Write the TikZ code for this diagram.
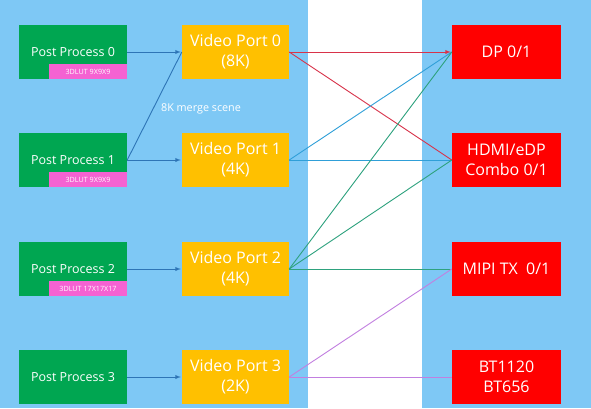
\documentclass[tikz,border=0pt]{standalone}
\usepackage{fontspec}
\setmainfont{Open Sans}
\usepackage{xcolor}
\usepackage{tikz}

\definecolor{bgblue}{HTML}{7EC8F5}
\definecolor{ppgreen}{HTML}{00A651}
\definecolor{lutpink}{HTML}{F562D2}
\definecolor{vpyellow}{HTML}{FFC000}
\definecolor{outred}{HTML}{FF0000}
\definecolor{arrblue}{HTML}{2E75B6}
\definecolor{linered}{HTML}{D8334A}
\definecolor{lineblue}{HTML}{2F9FD8}
\definecolor{linegreen}{HTML}{2EA27E}
\definecolor{linepurple}{HTML}{C27FE0}

\begin{document}
\begin{tikzpicture}[x=1pt,y=-1pt,>=latex,
  pbox/.style={fill=ppgreen,text=white,minimum width=108pt,minimum height=54pt,inner sep=0pt,font=\fontsize{12.5}{15}\selectfont},
  lut/.style={fill=lutpink,text=white,minimum width=78pt,minimum height=15pt,inner sep=0pt,font=\fontsize{7.2}{8}\selectfont},
  vport/.style={fill=vpyellow,text=white,minimum width=107pt,minimum height=54pt,inner sep=0pt,align=center,font=\fontsize{16}{20}\selectfont},
  outbox/.style={fill=outred,text=white,minimum width=109pt,minimum height=54pt,inner sep=0pt,align=center,font=\fontsize{16}{20}\selectfont},
  link/.style={line width=0.9pt}]

% background
\fill[bgblue] (0,0) rectangle (591,408);
\fill[white] (308,0) rectangle (422,408);

% post process
\node[pbox] (pp0) at (73,52) {Post Process 0};
\node[pbox] (pp1) at (73,160) {Post Process 1};
\node[pbox] (pp2) at (73,269) {Post Process 2};
\node[pbox] (pp3) at (73,377) {Post Process 3};
\node[lut,anchor=south east] (lut0) at (pp0.south east) {3DLUT 9X9X9};
\node[lut,anchor=south east] (lut1) at (pp1.south east) {3DLUT 9X9X9};
\node[lut,anchor=south east] (lut2) at (pp2.south east) {3DLUT 17X17X17};

% video ports
\node[vport] (vp0) at (235.5,52) {Video Port 0\\(8K)};
\node[vport] (vp1) at (235.5,160) {Video Port 1\\(4K)};
\node[vport] (vp2) at (235.5,269) {Video Port 2\\(4K)};
\node[vport] (vp3) at (235.5,377) {Video Port 3\\(2K)};

% outputs
\node[outbox] (dp) at (506.5,52) {DP 0/1};
\node[outbox] (hdmi) at (506.5,160) {HDMI/eDP\\Combo 0/1};
\node[outbox] (mipi) at (506.5,269) {MIPI TX\ \ 0/1};
\node[outbox] (bt) at (506.5,377) {BT1120\\BT656};

\node[text=white,font=\fontsize{10.8}{12}\selectfont] (merge) at (201,109) {8K merge scene};

% process -> port
\draw[link,arrblue,->,shorten >=1pt] (pp0.east) -- (vp0.west);
\draw[link,arrblue] (pp1.east) -- (vp0.west);
\draw[link,arrblue,->,shorten >=1pt] (pp1.east) -- (vp1.west);
\draw[link,arrblue,->,shorten >=1pt] (pp2.east) -- (vp2.west);
\draw[link,arrblue,->,shorten >=1pt] (pp3.east) -- (vp3.west);

% port -> output
\draw[link,linered,->,shorten >=1pt] (vp0.east) -- (dp.west);
\draw[link,linered] (vp0.east) -- (hdmi.west);
\draw[link,lineblue] (vp1.east) -- (dp.west);
\draw[link,lineblue] (vp1.east) -- (hdmi.west);
\draw[link,linegreen] (vp2.east) -- (dp.west);
\draw[link,linegreen] (vp2.east) -- (hdmi.west);
\draw[link,linegreen] (vp2.east) -- (mipi.west);
\draw[link,linepurple] (vp3.east) -- (mipi.west);
\draw[link,linepurple] (vp3.east) -- (bt.west);

\end{tikzpicture}
\end{document}
